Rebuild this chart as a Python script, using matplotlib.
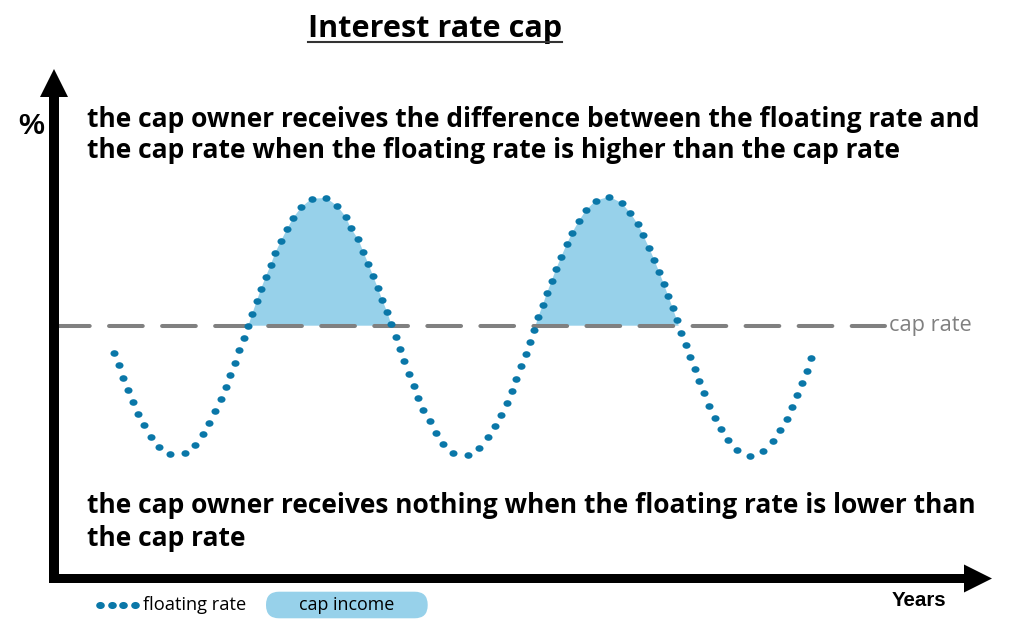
import matplotlib
matplotlib.use("Agg")
import matplotlib.pyplot as plt
import numpy as np
from matplotlib.path import Path
from matplotlib.transforms import Affine2D
from matplotlib.patches import FancyArrow, FancyBboxPatch

# ---------------- data ----------------
time = [59.0, 63.7, 68.0, 73.0, 77.7, 83.3, 89.0, 96.0, 104.3, 115.3,
        130.0, 140.0, 148.3, 154.3, 160.3, 165.7, 170.7, 175.3, 180.0, 184.3,
        189.0, 193.3, 197.3, 201.7, 206.0, 210.7, 215.7, 220.3, 226.0, 232.0,
        238.3, 246.3, 256.7, 271.3, 282.3, 290.7, 295.7, 303.3, 308.3, 313.3,
        318.0, 322.7, 327.3, 332.3, 336.3, 340.7, 345.0, 349.3, 353.8, 358.5,
        363.2, 368.3, 374.7, 381.0, 388.3, 398.3, 413.0, 424.3, 433.0, 440.0,
        446.0, 451.7, 456.7, 461.3, 466.0, 470.7, 475.0, 479.3, 483.3, 487.7,
        492.0, 496.7, 501.3, 506.3, 511.7, 517.3, 523.7, 531.0, 540.7, 554.3,
        566.7, 575.3, 582.7, 588.3, 594.0, 599.3, 604.0, 608.7, 613.3, 617.7,
        622.0, 626.0, 630.7, 635.0, 639.7, 644.0, 649.0, 654.3, 660.0, 666.0,
        673.0, 682.0, 695.0, 708.3, 717.7, 725.3, 731.7, 737.0, 742.3, 747.0,
        751.7, 756.0]
rate = [225.0, 212.7, 200.3, 188.3, 176.3, 164.3, 152.7, 141.3, 131.0, 123.7,
        124.7, 133.0, 143.7, 155.3, 167.0, 179.0, 191.0, 203.3, 215.3, 227.7,
        239.7, 252.0, 264.3, 276.7, 289.0, 301.0, 313.0, 325.3, 337.0, 348.7,
        360.3, 370.7, 379.3, 380.0, 372.0, 361.3, 350.0, 338.7, 326.3, 314.3,
        302.3, 290.3, 278.0, 265.7, 253.7, 241.3, 229.0, 216.7, 204.5, 192.5,
        180.3, 168.3, 156.7, 145.3, 134.3, 125.3, 123.0, 130.3, 140.7, 151.7,
        163.3, 175.3, 187.3, 199.3, 211.7, 224.0, 236.0, 248.3, 261.0, 272.7,
        285.0, 297.3, 309.3, 321.3, 333.7, 345.3, 356.7, 367.7, 377.3, 381.3,
        375.0, 365.0, 354.0, 342.7, 330.3, 318.3, 306.3, 294.3, 282.0, 270.0,
        257.7, 245.3, 233.3, 221.0, 208.7, 196.7, 184.7, 172.3, 160.3, 149.0,
        138.0, 128.3, 122.3, 127.0, 137.0, 148.0, 159.3, 171.3, 183.3, 195.3,
        207.3, 219.7]
cap_rate = 252.3

title = "Interest rate cap"
note_top = ["the cap owner receives the difference between the floating rate and",
            "the cap rate when the floating rate is higher than the cap rate"]
note_bottom = ["the cap owner receives nothing when the floating rate is lower than",
               "the cap rate"]
y_label = "%"
x_label = "Years"
cap_label = "cap rate"
legend_labels = ["floating rate", "cap income"]

DOT = "#0a77a8"
FILL = "#97d1ea"
GREY = "#808080"
FONT = ["Open Sans", "DejaVu Sans"]

# ---------------- figure ----------------
fig = plt.figure(figsize=(10.24, 6.28), dpi=100)
ax = fig.add_axes([0, 0, 1, 1])
ax.set_xlim(-55, 969)
ax.set_ylim(-50, 578)
ax.axis("off")

t = np.array(time)
r = np.array(rate)

ax.fill_between(t, r, cap_rate, where=r >= cap_rate, interpolate=True,
                color=FILL, lw=0, zorder=1)

lw_cap = 2.9
ax.plot([1.3, 829.7], [cap_rate, cap_rate], color=GREY, lw=lw_cap,
        dashes=(8.37, 4.80), dash_capstyle="round", zorder=2)

ell = Path.unit_circle().transformed(Affine2D().scale(1.22, 1.0))
ax.plot(t, r, ls="none", marker=ell, ms=5.8, color=DOT, mec="none", zorder=3)

# axes arrows
ax.add_patch(FancyArrow(-1, -4.5, 0, 513.5, width=10, head_width=28, head_length=28,
                        length_includes_head=True, color="black", lw=0, zorder=4))
ax.add_patch(FancyArrow(-6, -0.5, 943, 0, width=9, head_width=28, head_length=28,
                        length_includes_head=True, color="black", lw=0, zorder=4))


def fit(txt, width_px):
    fig.canvas.draw()
    w = txt.get_window_extent().width
    txt.set_fontsize(txt.get_fontsize() * width_px / w)


# title
tt = ax.text(380, 540.7, title, ha="center", va="baseline", fontsize=20,
             fontweight="bold", family=FONT, color="black")
fit(tt, 254)

# notes
n1 = ax.text(32, 451.3, note_top[0], ha="left", va="baseline", fontsize=18,
             fontweight="bold", family=FONT, color="black")
fit(n1, 896)
fs = n1.get_fontsize()
ax.text(32, 420.0, note_top[1], ha="left", va="baseline", fontsize=fs,
        fontweight="bold", family=FONT, color="black")
ax.text(32, 65.0, note_bottom[0], ha="left", va="baseline", fontsize=fs,
        fontweight="bold", family=FONT, color="black")
ax.text(32, 32.0, note_bottom[1], ha="left", va="baseline", fontsize=fs,
        fontweight="bold", family=FONT, color="black")

# axis labels
ax.text(-24, 444, y_label, ha="center", va="baseline", fontsize=21,
        fontweight="bold", family=["Liberation Sans", "DejaVu Sans"], color="black")
yl = ax.text(864, -27.7, x_label, ha="center", va="baseline", fontsize=14,
             fontweight="bold", family=["Liberation Sans", "DejaVu Sans"], color="black")
fit(yl, 55)

cl = ax.text(834, cap_rate, cap_label, ha="left", va="center", fontsize=14,
             family=FONT, color=GREY)
fit(cl, 83)

# legend
ax.plot([45, 57, 68, 80], [-27, -27, -27, -27], ls="none", marker=ell, ms=6.2,
        color=DOT, mec="none")
l1 = ax.text(88, -27, legend_labels[0], ha="left", va="center", fontsize=12,
             family=FONT, color="black")
fit(l1, 103)
ax.add_patch(FancyBboxPatch((211, -40.3), 161.7, 26.6,
                            boxstyle="round,pad=0,rounding_size=13",
                            fc=FILL, ec="none"))
l2 = ax.text(291.8, -27, legend_labels[1], ha="center", va="center", fontsize=12,
             family=FONT, color="black")
fit(l2, 95)

# title underline
fig.canvas.draw()
bb = tt.get_window_extent()
uy = (628 - 41.7) / 628
fig.add_artist(plt.Line2D([bb.x0 / 1024, bb.x1 / 1024], [uy, uy],
                          transform=fig.transFigure, color="#333333", lw=1.5))

fig.savefig("out.png", dpi=100)
